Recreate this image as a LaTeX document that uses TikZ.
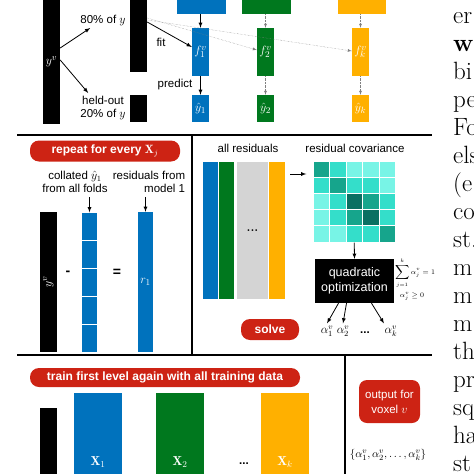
\documentclass[tikz,border=0pt]{standalone}
\usepackage{fontspec}
\setsansfont{Liberation Sans}
\usetikzlibrary{arrows.meta,positioning}

\definecolor{cblue}{RGB}{0,114,189}
\definecolor{cgreen}{RGB}{0,120,30}
\definecolor{corange}{RGB}{255,176,0}
\definecolor{cgray}{RGB}{212,212,212}
\definecolor{cred}{RGB}{205,35,20}
\definecolor{heat1}{RGB}{120,244,230}
\definecolor{heat2}{RGB}{52,222,202}
\definecolor{heat3}{RGB}{34,206,184}
\definecolor{heat4}{RGB}{22,165,140}
\definecolor{heat5}{RGB}{10,112,98}

\tikzset{
  bar/.style={fill=#1, inner sep=0pt, text=white, font=\fontsize{12.5}{14}\selectfont},
  pill/.style={fill=cred, text=white, rounded corners=9pt, inner sep=0pt,
    font=\sffamily\bfseries\fontsize{12}{14}\selectfont},
  txt/.style={font=\sffamily\fontsize{11.5}{13}\selectfont, align=center, inner sep=0pt},
  sep/.style={line width=1.4pt},
  arr/.style={thick, -latex},
  darr/.style={densely dotted, gray, -latex},
  cell/.style={fill=#1, minimum width=15.5pt, minimum height=15.2pt, inner sep=0pt},
  coef/.style={inner sep=0pt, font=\fontsize{12}{14}\selectfont},
}

\begin{document}
\begin{tikzpicture}[x=1pt, y=-1pt]
  \useasboundingbox (0,0) rectangle (474,474);
  \clip (0,0) rectangle (474,474);

  % first level: split and fit
  \node[bar=black, minimum width=17, minimum height=124] (yv) at (51.5,62) {$y^v$};
  \node[txt] (part80) at (103,21) {80\% of $y$};
  \node[txt] (part20) at (103,108) {held-out\\20\% of $y$};
  \draw[arr] ([yshift=14]yv.east) -- ++(30,-20);
  \draw[arr] ([yshift=2]yv.east) -- ++(28,33);
  \node[bar=black, minimum width=17, minimum height=72] (ytrain) at (138.5,36) {};
  \node[bar=black, minimum width=17, minimum height=27] (ytest) at (138.5,108.5) {};

  \node[bar=cblue, minimum width=49, minimum height=14] (X1top) at (201.5,7) {};
  \node[bar=cgreen, minimum width=49, minimum height=14] (X2top) at (266.5,7) {};
  \node[bar=corange, minimum width=48, minimum height=14] (Xktop) at (362,7) {};
  \node[bar=cblue, minimum width=17, minimum height=48] (f1) at (200.5,52) {$f_1^v$};
  \node[bar=cgreen, minimum width=17, minimum height=48] (f2) at (265.5,52) {$f_2^v$};
  \node[bar=corange, minimum width=17, minimum height=48] (fk) at (360.5,52) {$f_k^v$};
  \node[bar=cblue, minimum width=17, minimum height=27] (yh1) at (200.5,108.5) {$\hat{y}_1$};
  \node[bar=cgreen, minimum width=17, minimum height=27] (yh2) at (265.5,108.5) {$\hat{y}_2$};
  \node[bar=corange, minimum width=17, minimum height=27] (yhk) at (360.5,108.5) {$\hat{y}_k$};

  \draw[arr] ([yshift=14]ytrain.east) -- ([yshift=5]f1.west);
  \node[txt] at (161,42) {fit};
  \node[txt] at (175,85) {predict};
  \draw[arr] (X1top.south -| f1) -- (f1.north);
  \draw[arr] (f1.south) -- (yh1.north);
  \draw[darr] (X2top.south -| f2) -- (f2.north);
  \draw[darr] (f2.south) -- (yh2.north);
  \draw[darr] (Xktop.south -| fk) -- (fk.north);
  \draw[darr] (fk.south) -- (yhk.north);
  \draw[darr] ([yshift=18]ytrain.east) -- ([yshift=2]f2.west);
  \draw[darr] ([yshift=16]ytrain.east) -- ([yshift=1]fk.west);

  % panel borders
  \draw[sep] (17,135) -- (432,135);
  \draw[sep] (192,135) -- (192,355);
  \draw[sep] (17,355) -- (432,355);
  \draw[sep] (345,355) -- (345,474);

  % residuals of one model
  \node[pill, minimum width=150, minimum height=21] (repeat) at (105,151) {repeat for every $\mathbf{X}_j$};
  \node[txt] (collated) at (75,182) {collated $\hat{y}_1$\\from all folds};
  \node[txt, align=right] (fromres) at (149,182) {residuals from\\model 1};
  \node[bar=black, minimum width=17, minimum height=140] (yv2) at (48.5,282) {};
  \node[rotate=90, text=white, font=\fontsize{12.5}{14}\selectfont] at (yv2) {$y^v$};
  \foreach \i in {0,...,4}
    \node[bar=cblue, minimum width=15, minimum height=27] (seg\i) at (89.5,{226+28*\i}) {};
  \node[bar=cblue, minimum width=15, minimum height=140] (r1) at (145.5,282) {$r_1$};
  \node[txt, font=\sffamily\bfseries\fontsize{14}{14}\selectfont] at (68,273) {-};
  \node[txt, font=\sffamily\bfseries\fontsize{14}{14}\selectfont] at (117,273) {=};
  \draw[arr] (seg0.north) ++(0,-15) -- (seg0.north);
  \draw[arr] (r1.north) ++(0,-15) -- (r1.north);

  % stacking weights
  \node[txt] at (248,148) {all residuals};
  \node[txt] at (355,148) {residual covariance};
  \node[bar=cblue, minimum width=15, minimum height=137] (res1) at (210.5,230.5) {};
  \node[bar=cgreen, minimum width=15, minimum height=137] (res2) at (226.5,230.5) {};
  \node[bar=cgray, minimum width=31, minimum height=137, text=black] (resdots) at (252.5,230.5) {\textbf{...}};
  \node[bar=corange, minimum width=16, minimum height=137] (resk) at (277,230.5) {};
  \foreach \row [count=\i] in {{4,2,1,1,1},{2,4,2,2,1},{1,2,5,4,2},{1,2,4,5,2},{1,1,2,2,4}}
    \foreach \v [count=\j] in \row
      \node[cell=heat\v] (c\i\j) at ({313+16.5*(\j-0.5)},{161+16.2*(\i-0.5)}) {};
  \draw[arr] ([xshift=5,yshift=56.5]resk.east) -- ([xshift=-7]c11.west |- 0,174);
  \node[bar=black, minimum width=79, minimum height=44, txt, text=white, font=\sffamily\fontsize{12.5}{15}\selectfont] (qopt) at (354.5,281) {quadratic\\optimization};
  \draw[arr] ([yshift=-1]c53.south) -- (qopt.north);
  \node[inner sep=0pt, font=\scriptsize] at (415,273) {$\displaystyle\sum_{j=1}^{k}\alpha_j^v = 1$};
  \node[inner sep=0pt, font=\scriptsize] at (412,296) {$\alpha_j^v \geq 0$};
  \node[coef] (a1) at (327,331) {$\alpha_1^v$};
  \node[coef] (a2) at (343,331) {$\alpha_2^v$};
  \node[txt] at (365,333) {\textbf{...}};
  \node[coef] (ak) at (391,331) {$\alpha_k^v$};
  \draw[arr] ([xshift=-16]qopt.south) -- ([yshift=2]a1.north);
  \draw[arr] ([xshift=-8]qopt.south) -- ([yshift=2]a2.north);
  \draw[arr] ([xshift=17]qopt.south) -- ([xshift=-7,yshift=2]ak.north);
  \node[pill, minimum width=58, minimum height=21] (solve) at (270,329.5) {solve};

  % second level
  \node[pill, minimum width=270, minimum height=19] (retrain) at (165,377.5) {train first level again with all training data};
  \node[bar=black, minimum width=17, minimum height=66] (yv3) at (48,441) {};
  \node[bar=cblue, minimum width=48, minimum height=81] (X1) at (98,433.5) {};
  \node[bar=cgreen, minimum width=48, minimum height=81] (X2) at (180,433.5) {};
  \node[bar=corange, minimum width=48, minimum height=81] (Xk) at (285,433.5) {};
  \node[text=white, font=\fontsize{13}{15}\selectfont] at ([yshift=12]X1.south) {$\mathbf{X}_1$};
  \node[text=white, font=\fontsize{13}{15}\selectfont] at ([yshift=12]X2.south) {$\mathbf{X}_2$};
  \node[text=white, font=\fontsize{13}{15}\selectfont] at ([yshift=12]Xk.south) {$\mathbf{X}_k$};
  \node[txt] at (244,464) {\textbf{...}};

  \node[pill, rounded corners=8pt, minimum width=61, minimum height=43, align=center,
    font=\sffamily\fontsize{11.5}{15}\selectfont] (output) at (389.5,401.5) {output for\\voxel $v$};
  \node[inner sep=0pt, font=\fontsize{11}{13}\selectfont] (weights) at (388,455) {$\{\alpha_1^v,\alpha_2^v,\ldots,\alpha_k^v\}$};

  % running text of the page
  \foreach \w [count=\k from 0] in {er,{\textbf{wi}},bi,pe,Fo,els,{(e.},co,{st.},m,m,m,th,pr,sq,ha,st}
    \node[anchor=base west, inner sep=0pt, font=\fontsize{25}{30}\selectfont] at (453,{23+28*\k}) {\w};
\end{tikzpicture}
\end{document}
